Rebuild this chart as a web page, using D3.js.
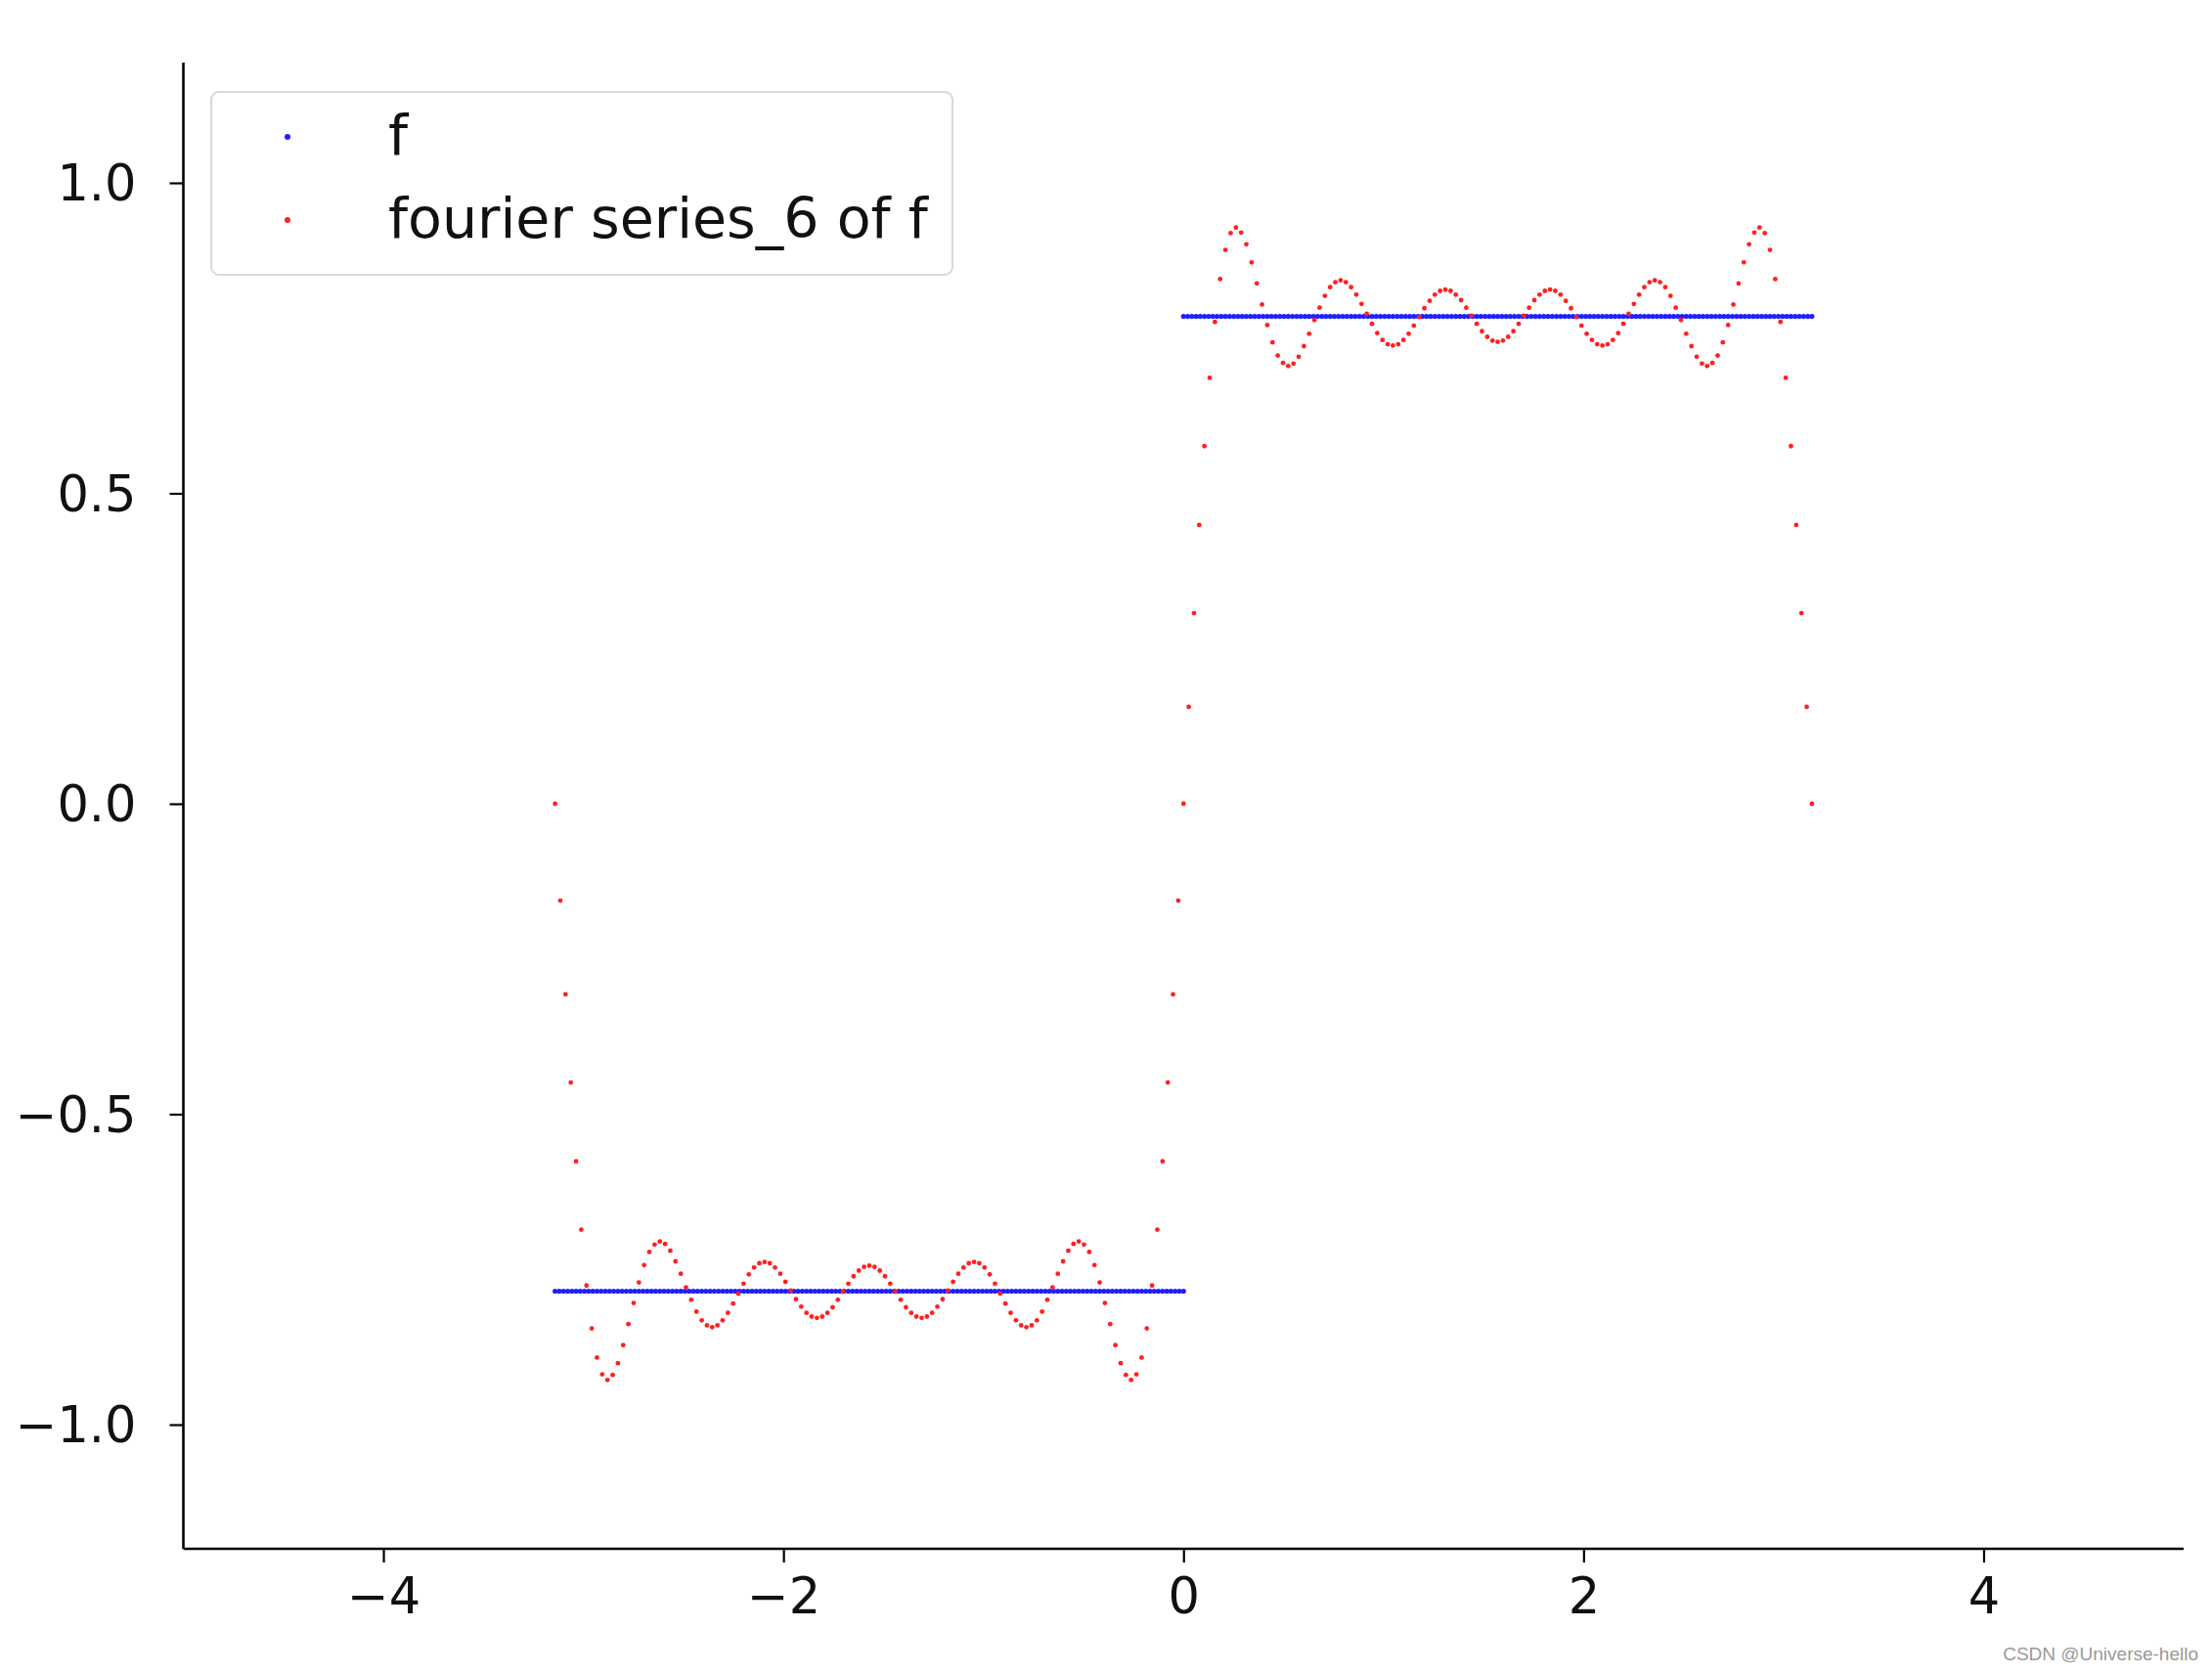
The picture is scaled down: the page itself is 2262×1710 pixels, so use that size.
<!DOCTYPE html>
<html><head><meta charset="utf-8">
<script src="https://cdn.jsdelivr.net/npm/d3@7/dist/d3.min.js"></script>
<style>body{margin:0;background:#fff}svg{display:block}</style>
</head><body>
<svg id="c" width="2262" height="1710"></svg>
<script>
// Fourier partial sum (6 terms), sampled at x = k*PI/120, k = -120..120
const seriesFourier = [
-0,-.156,-.307,-.449,-.576,-.686,-.776,-.845,-.892,-.919,-.928,-.920,-.901,-.872,-.838,-.804,-.771,-.743,-.722,-.710,-.705,-.709,-.720,-.737,-.757,-.779,-.799,-.818,-.832,-.840,-.843,-.840,-.832,-.820,-.805,-.789,-.773,-.758,-.747,-.740,-.738,-.740,-.747,-.757,-.770,-.784,-.798,-.810,-.820,-.826,-.828,-.826,-.820,-.811,-.799,-.786,-.773,-.761,-.752,-.746,
-.744,-.746,-.752,-.761,-.773,-.786,-.799,-.811,-.820,-.826,-.828,-.826,-.820,-.810,-.798,-.784,-.770,-.757,-.747,-.740,-.738,-.740,-.747,-.758,-.773,-.789,-.805,-.820,-.832,-.840,-.843,-.840,-.832,-.818,-.799,-.779,-.757,-.737,-.720,-.709,-.705,-.710,-.722,-.743,-.771,-.804,-.838,-.872,-.901,-.920,-.928,-.919,-.892,-.845,-.776,-.686,-.576,-.449,-.307,-.156,
0,.156,.307,.449,.576,.686,.776,.845,.892,.919,.928,.920,.901,.872,.838,.804,.771,.743,.722,.710,.705,.709,.720,.737,.757,.779,.799,.818,.832,.840,.843,.840,.832,.820,.805,.789,.773,.758,.747,.740,.738,.740,.747,.757,.770,.784,.798,.810,.820,.826,.828,.826,.820,.811,.799,.786,.773,.761,.752,.746,
.744,.746,.752,.761,.773,.786,.799,.811,.820,.826,.828,.826,.820,.810,.798,.784,.770,.757,.747,.740,.738,.740,.747,.758,.773,.789,.805,.820,.832,.840,.843,.840,.832,.818,.799,.779,.757,.737,.720,.709,.705,.710,.722,.743,.771,.804,.838,.872,.901,.920,.928,.919,.892,.845,.776,.686,.576,.449,.307,.156,0];
// f: square wave levels
const fSegments = [{x0:-3.1416, x1:0, y:-0.785},{x0:0, x1:3.1416, y:0.785}];
const xTicks = [-4,-2,0,2,4];
const yTicks = [-1.0,-0.5,0.0,0.5,1.0];
const legendLabels = ["f","fourier series_6 of f"];

const svg = d3.select("#c");
const font = "DejaVu Sans, sans-serif";
const x = d3.scaleLinear().domain([-5,5]).range([187.5,2233]);
const y = d3.scaleLinear().domain([-1.2,1.2]).range([1584,60]);

const N = seriesFourier.length;
const half = (N-1)/2;
const xs = d3.range(N).map(i => (i-half)*Math.PI/half);

const fPts = [];
fSegments.forEach(s => { d3.range(0,151).forEach(i => fPts.push([s.x0 + (s.x1-s.x0)*i/150, s.y])); });
svg.append("g").selectAll("circle").data(fPts).join("circle")
  .attr("cx",d=>x(d[0])).attr("cy",d=>y(d[1])).attr("r",2.6).attr("fill","#1f1fff");
svg.append("g").selectAll("circle").data(seriesFourier).join("circle")
  .attr("cx",(d,i)=>x(xs[i])).attr("cy",d=>y(d)).attr("r",2.4).attr("fill","#ff2020");

const fmt = v => (v<0?"\u2212":"") + Math.abs(v).toFixed(1);
const ax = svg.append("g").attr("transform","translate(0,1584)")
  .call(d3.axisBottom(x).tickValues(xTicks).tickSize(14).tickFormat(d=>(d<0?"\u2212":"")+Math.abs(d)));
const ay = svg.append("g").attr("transform","translate(187.5,0)")
  .call(d3.axisLeft(y).tickValues(yTicks).tickSize(14).tickFormat(fmt));
[ax,ay].forEach(g=>{
  g.select(".domain").attr("stroke","#000").attr("stroke-width",2.6);
  g.selectAll(".tick line").attr("stroke","#000").attr("stroke-width",2.2);
  g.selectAll("text").attr("font-family",font).attr("font-size",51).attr("fill","#111");
});
ax.selectAll("text").attr("y",30).attr("dy","0.71em");
ay.selectAll("text").attr("x",-48).attr("dy","0.35em");
ax.select(".domain").attr("d","M187.5,0H2233");
ay.select(".domain").attr("d","M0,1584V64");

const lg = svg.append("g");
lg.append("rect").attr("x",216).attr("y",94).attr("width",758).attr("height",187).attr("rx",8)
  .attr("fill","#fff").attr("stroke","#d8d8d8").attr("stroke-width",2);
const lc = ["#1f1fff","#ff2020"];
legendLabels.forEach((t,i)=>{
  const yy = 138 + i*85;
  lg.append("circle").attr("cx",294).attr("cy",yy+2).attr("r",3).attr("fill",lc[i]);
  lg.append("text").attr("x",397).attr("y",yy).attr("dy","0.35em").attr("font-family",font)
    .attr("font-size",57).attr("fill","#111").text(t);
});
svg.append("text").attr("x",2248).attr("y",1698).attr("text-anchor","end").attr("font-family","Liberation Sans, sans-serif")
  .attr("font-size",19).attr("fill","#999").text("CSDN @Universe-hello");
</script>
</body></html>
